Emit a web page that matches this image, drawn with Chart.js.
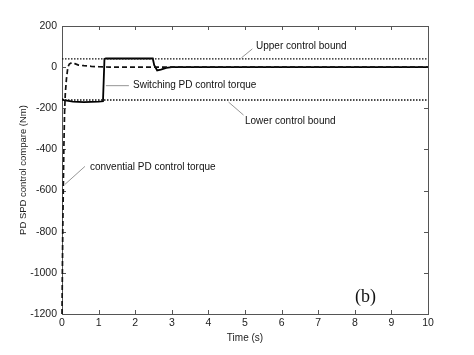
<!DOCTYPE html>
<html>
<head>
<meta charset="utf-8">
<script src="https://cdn.jsdelivr.net/npm/chart.js@4/dist/chart.umd.min.js"></script>
<style>
html,body{margin:0;padding:0;background:#fff;}
canvas{display:block;}
</style>
</head>
<body>
<canvas id="c" width="474" height="355"></canvas>
<script>
// ---- data ----
const xTicks = [0,1,2,3,4,5,6,7,8,9,10];
const yTicks = [200,0,-200,-400,-600,-800,-1000,-1200];

const boundTime  = [0, 10];
const upperBound = [40, 40];
const lowerBound = [-160, -160];

const convTime   = [0, 0.01, 0.02, 0.035, 0.05, 0.07, 0.09, 0.12, 0.16, 0.2, 0.27, 0.35, 0.45, 0.6, 0.8, 1.0, 1.3, 10];
const convTorque = [-1200, -1000, -800, -600, -400, -220, -130, -60, 0, 15, 22, 17, 10, 7, 4, 2, 0, 0];

const swTime   = [0, 0.05, 0.3, 0.6, 1.0, 1.12, 1.16, 1.2, 1.5, 2.0, 2.48, 2.52, 2.6, 2.7, 2.85, 3.0, 10];
const swTorque = [-155, -160, -168, -170, -168, -166, 40, 42, 42, 42, 42, 10, -16, -12, -4, 0, 0];

const labels = {
  upper: "Upper control bound",
  switching: "Switching PD control torque",
  lower: "Lower control bound",
  conv: "convential PD control torque",
  panel: "(b)"
};

function pts(xs, ys){ return xs.map((x,i)=>({x:x, y:ys[i]})); }

const frame = {
  id:'frame',
  beforeDatasetsDraw(chart){
    const ctx = chart.ctx, a = chart.chartArea;
    const xs = chart.scales.x, ys = chart.scales.y;
    ctx.save();
    ctx.strokeStyle = '#555';
    ctx.lineWidth = 1;
    ctx.setLineDash([]);
    ctx.strokeRect(Math.round(a.left)+0.5, Math.round(a.top)+0.5, Math.round(a.right-a.left), Math.round(a.bottom-a.top));
    ctx.beginPath();
    xTicks.forEach(v=>{
      const px = Math.round(xs.getPixelForValue(v))+0.5;
      ctx.moveTo(px, a.bottom); ctx.lineTo(px, a.bottom-4);
      ctx.moveTo(px, a.top); ctx.lineTo(px, a.top+4);
    });
    yTicks.forEach(v=>{
      const py = Math.round(ys.getPixelForValue(v))+0.5;
      ctx.moveTo(a.left, py); ctx.lineTo(a.left+4, py);
      ctx.moveTo(a.right, py); ctx.lineTo(a.right-4, py);
    });
    ctx.stroke();
    ctx.restore();
  },
  afterDatasetsDraw(chart){
    const ctx = chart.ctx;
    const xs = chart.scales.x, ys = chart.scales.y;
    ctx.save();
    const P = (x,y)=>[xs.getPixelForValue(x), ys.getPixelForValue(y)];
    ctx.strokeStyle = '#8a8a8a';
    ctx.lineWidth = 0.9;
    ctx.setLineDash([]);
    ctx.beginPath();
    let p = P(4.9, 40);  ctx.moveTo(p[0], p[1]-1); ctx.lineTo(p[0]+11, p[1]-10);
    p = P(1.2, -90);     ctx.moveTo(p[0], p[1]); ctx.lineTo(p[0]+23, p[1]);
    p = P(4.55, -160);   ctx.moveTo(p[0], p[1]+2); ctx.lineTo(p[0]+15, p[1]+15);
    p = P(0.08, -570);   ctx.moveTo(p[0], p[1]); ctx.lineTo(p[0]+20, p[1]-18);
    ctx.stroke();

    ctx.fillStyle = '#111';
    ctx.textBaseline = 'middle';
    ctx.textAlign = 'left';
    ctx.font = '10px "Liberation Sans", Arial, sans-serif';
    ctx.fillText(labels.upper, 256, 46);
    ctx.fillText(labels.switching, 133, 85);
    ctx.fillText(labels.lower, 245, 121);
    ctx.fillText(labels.conv, 90, 167);
    ctx.font = '18px "Liberation Serif", "Times New Roman", serif';
    ctx.fillText(labels.panel, 355, 297);
    ctx.restore();
  }
};

new Chart(document.getElementById('c'), {
  type: 'line',
  data: {
    datasets: [
      {label:'Upper control bound', data: pts(boundTime, upperBound), borderColor:'#111', borderWidth:1.4, borderDash:[1.5,1.5], pointRadius:0, tension:0},
      {label:'Lower control bound', data: pts(boundTime, lowerBound), borderColor:'#111', borderWidth:1.4, borderDash:[1.5,1.5], pointRadius:0, tension:0},
      {label:'convential PD control torque', data: pts(convTime, convTorque), borderColor:'#111', borderWidth:1.7, borderDash:[5,3], pointRadius:0, tension:0, clip:false},
      {label:'Switching PD control torque', data: pts(swTime, swTorque), borderColor:'#000', borderWidth:1.8, pointRadius:0, tension:0}
    ]
  },
  options: {
    responsive: false,
    animation: false,
    devicePixelRatio: 1,
    layout: {padding: {top: 26, right: 46, left: 0, bottom: 0}},
    plugins: {legend: {display:false}, tooltip: {enabled:false}},
    scales: {
      x: {
        type:'linear', min:0, max:10,
        afterBuildTicks: s => { s.ticks = xTicks.map(v=>({value:v})); },
        afterFit: s => { s.height = 41; },
        grid: {display:false, drawTicks:false},
        border: {display:false},
        ticks: {color:'#222', font:{family:'"Liberation Sans", Arial, sans-serif', size:10.5}, padding:3, maxRotation:0, autoSkip:false, callback: v => String(v)},
        title: {display:true, text:'Time (s)', color:'#222', font:{family:'"Liberation Sans", Arial, sans-serif', size:10}, padding:{top:0, bottom:11}}
      },
      y: {
        type:'linear', min:-1200, max:200,
        afterBuildTicks: s => { s.ticks = yTicks.map(v=>({value:v})); },
        afterFit: s => { s.width = 62; },
        grid: {display:false, drawTicks:false},
        border: {display:false},
        ticks: {color:'#222', font:{family:'"Liberation Sans", Arial, sans-serif', size:10.5}, padding:5, autoSkip:false, callback: v => String(v)},
        title: {display:true, text:'PD SPD control compare (Nm)', color:'#222', font:{family:'"Liberation Sans", Arial, sans-serif', size:9.5}, padding:{top:18, bottom:0}}
      }
    }
  },
  plugins: [frame]
});
</script>
</body>
</html>
